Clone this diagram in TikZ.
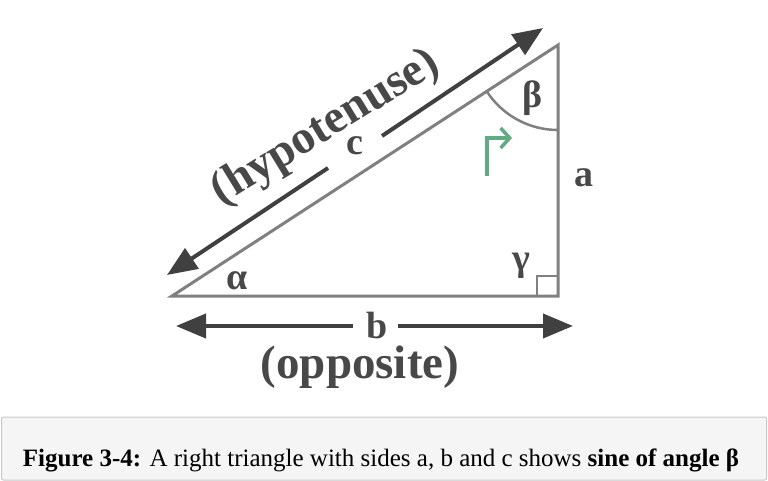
\documentclass[tikz,border=0pt]{standalone}
\usepackage{fontspec}
\setmainfont{Liberation Serif}
\usetikzlibrary{arrows.meta}
\definecolor{tri}{RGB}{128,128,128}
\definecolor{arr}{RGB}{64,64,64}
\definecolor{lab}{RGB}{72,72,72}
\definecolor{grn}{RGB}{95,172,130}
\definecolor{capfill}{RGB}{245,245,245}
\definecolor{capline}{RGB}{200,200,200}
\tikzset{
  side/.style={draw=tri,line width=3pt,line join=miter},
  dimarrow/.style={draw=arr,line width=4pt,-{Triangle[length=30pt,width=24pt]}},
  biglab/.style={text=lab,font=\fontsize{38}{42}\selectfont\bfseries,inner sep=0pt},
  greek/.style={text=lab,font=\fontsize{38}{42}\selectfont\bfseries,inner sep=0pt},
  word/.style={text=lab,font=\fontsize{47}{51}\selectfont\bfseries,inner sep=0pt},
}
\begin{document}
\begin{tikzpicture}[x=1pt,y=-1pt]
\useasboundingbox (0,0) rectangle (768,481);
% triangle
\coordinate (A) at (172,296);
\coordinate (C) at (558,296);
\coordinate (B) at (558,45);
\draw[side] (A) -- (C) -- (B) -- cycle;
% right-angle box
\draw[draw=tri,line width=2.5pt] (537,296) |- (558,276);
% beta arc
\draw[draw=tri,line width=2.5pt] (558,130) arc[start angle=90,end angle=147,radius=85];
% hypotenuse arrow
\coordinate (H1) at (328,168);
\coordinate (H2) at (382,136);
\coordinate (HL) at (167,275);
\coordinate (HR) at (543,28);
\draw[dimarrow] (H1) -- (HL);
\draw[dimarrow] (H2) -- (HR);
% base arrow
\coordinate (BL) at (176,326);
\coordinate (BR) at (573,326);
\node[biglab,anchor=base] (b) at (377,338) {b};
\draw[dimarrow] (353,326) -- (BL);
\draw[dimarrow] (398,326) -- (BR);
% labels
\node[biglab,anchor=base] (c) at (355,155) {c};
\node[biglab,anchor=base] (a) at (584,186) {a};
\node[greek,anchor=base] (alpha) at (237,289) {α};
\node[greek,anchor=base] (beta) at (533,108) {β};
\node[greek,anchor=base] (gamma) at (521,270) {γ};
\node[word,rotate=31.5] (hyp) at (326,128) {(hypotenuse)};
\node[word,anchor=base] (opp) at (360,378) {(opposite)};
% green arrow
\coordinate (G0) at (487,176);
\coordinate (G1) at (487,138);
\coordinate (G2) at (512,138);
\draw[draw=grn,line width=3.5pt,-{Straight Barb[length=9pt,width=20pt,line width=3.5pt]}] (G0) -- (G1) -- (G2);
% caption
\node[draw=capline,fill=capfill,line width=1pt,rounded corners=2pt,minimum width=765pt,minimum height=63pt,inner sep=0pt] (capbox) at (384,448.5) {};
\node[font=\fontsize{25}{28}\selectfont,text=black,anchor=base] (cap) at (381,466) {\textbf{Figure 3-4:} A right triangle with sides a, b and c shows \textbf{sine of angle β}};
\end{tikzpicture}
\end{document}
